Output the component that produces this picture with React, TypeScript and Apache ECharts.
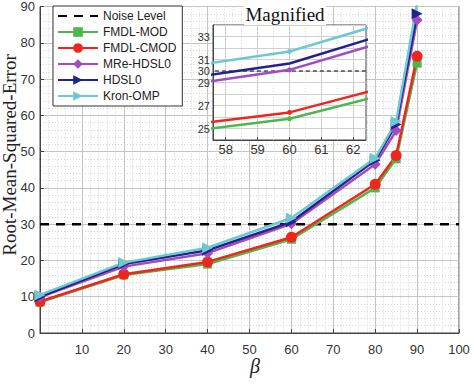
import React, { useEffect, useRef } from "react";
import * as echarts from "echarts";

const betaValues = [0, 20, 40, 60, 80, 85, 90];
const fmdlMod = [8.5, 16, 19, 25.85, 40, 48, 74.4];
const fmdlCmod = [8.7, 16.2, 19.6, 26.4, 41, 48.9, 76.3];
const mreHdsl0 = [9.9, 18.3, 22, 30.1, 46.5, 55.8, 86.3];
const hdsl0 = [10, 19, 22.8, 30.65, 47.6, 57.5, 88];
const kronOmp = [10.5, 19.4, 23.5, 31.7, 48.2, 58.3, 91];
const noiseLevel = 30;

const xTicksMain = [10, 20, 30, 40, 50, 60, 70, 80, 90, 100];
const insetXTicks = [58, 59, 60, 61, 62];
const insetXHalf = [58, 58.5, 59, 59.5, 60, 60.5, 61, 61.5, 62];
const insetYTicks = [25, 27, 29, 30, 31, 33];

const seriesDefs = [
  { name: "FMDL-MOD", data: fmdlMod, color: "#4cb84c", symbol: "rect", rot: 0, size: 9 },
  { name: "FMDL-CMOD", data: fmdlCmod, color: "#f0261e", symbol: "circle", rot: 0, size: 11 },
  { name: "MRe-HDSL0", data: mreHdsl0, color: "#a24bc0", symbol: "diamond", rot: 0, size: 11 },
  { name: "HDSL0", data: hdsl0, color: "#22228c", symbol: "triangle", rot: -90, size: 11 },
  { name: "Kron-OMP", data: kronOmp, color: "#6cc9d0", symbol: "triangle", rot: -90, size: 11 },
];

const pairs = (ys: number[]) => betaValues.map((x, i) => [x, ys[i]]);

export default function App() {
  const ref = useRef<HTMLDivElement>(null);
  useEffect(() => {
    if (!ref.current) return;
    const chart = echarts.init(ref.current, null, { renderer: "svg" });
    const sans = "Liberation Sans";
    const serif = "Liberation Serif";
    const mainSeries: any[] = [
      {
        name: "Noise Level",
        type: "line",
        xAxisIndex: 0,
        yAxisIndex: 0,
        data: [[0, noiseLevel], [100, noiseLevel]],
        showSymbol: false,
        symbol: "none",
        lineStyle: { color: "#000", width: 2.5, type: [9, 7] },
        itemStyle: { color: "#000" },
        z: 2,
      },
      ...seriesDefs.map((s) => ({
        name: s.name,
        type: "line",
        xAxisIndex: 0,
        yAxisIndex: 0,
        data: pairs(s.data),
        symbol: s.symbol,
        symbolSize: s.size,
        symbolRotate: s.rot,
        showAllSymbol: true,
        lineStyle: { color: s.color, width: 2.5 },
        itemStyle: { color: s.color },
        clip: true,
        z: 3,
      })),
    ];
    const insetSeries: any[] = [
      {
        name: "noise-inset",
        type: "line",
        xAxisIndex: 1,
        yAxisIndex: 1,
        data: [[57, noiseLevel], [63, noiseLevel]],
        symbol: "none",
        lineStyle: { color: "#000", width: 1.2, type: [4, 3] },
        clip: true,
        z: 8,
      },
      ...seriesDefs.map((s) => ({
        name: s.name + "-inset",
        type: "line",
        xAxisIndex: 1,
        yAxisIndex: 1,
        data: pairs(s.data),
        symbol: s.name === "HDSL0" ? "none" : "circle",
        symbolSize: 5,
        lineStyle: { color: s.color, width: 2.5 },
        itemStyle: { color: s.color },
        clip: true,
        z: 9,
      })),
    ];
    chart.setOption({
      animation: false,
      grid: [
        {
          left: 40,
          right: 15,
          top: 5,
          bottom: 51,
          show: true,
          borderColor: "#444",
          borderWidth: 1,
          backgroundColor: "#fff",
          z: 0,
        },
        {
          left: 213,
          top: 25,
          width: 153,
          height: 115,
          show: true,
          borderColor: "#444",
          borderWidth: 1,
          backgroundColor: "#fff",
          z: 5,
        },
      ],
      xAxis: [
        {
          type: "value",
          gridIndex: 0,
          min: 0,
          max: 100,
          interval: 10,
          axisLine: { show: true, onZero: false, lineStyle: { color: "#444" } },
          axisTick: { show: true, inside: true, length: 4, lineStyle: { color: "#444" } },
          axisLabel: {
            showMinLabel: false,
            color: "#333",
            fontFamily: sans,
            fontSize: 13,
            margin: 10,
            formatter: (v: number) => (xTicksMain.includes(v) ? String(v) : ""),
          },
          splitLine: { show: true, lineStyle: { color: "#c4c4c4", width: 1 } },
          minorTick: { show: false, splitNumber: 5 },
          minorSplitLine: { show: true, lineStyle: { color: "#d4d4d4", type: [1, 2], width: 1 } },
          z: 1,
        },
        {
          type: "value",
          gridIndex: 1,
          min: 57.6,
          max: 62.4,
          axisLine: { show: true, onZero: false, lineStyle: { color: "#444" } },
          axisTick: { show: true, inside: true, length: 3, customValues: insetXTicks, lineStyle: { color: "#444" } },
          axisLabel: { color: "#333", fontFamily: sans, fontSize: 13, margin: 3, customValues: insetXTicks },
          splitLine: { show: true, lineStyle: { color: "#c8c8c8", width: 1 } },
          z: 6,
        },
        {
          type: "value",
          gridIndex: 1,
          min: 57.6,
          max: 62.4,
          axisLine: { show: false },
          axisTick: { show: false, customValues: insetXHalf },
          axisLabel: { show: false, customValues: insetXHalf },
          splitLine: { show: true, lineStyle: { color: "#d8d8d8", width: 1, type: [1, 2] } },
          z: 6,
        },
      ],
      yAxis: [
        {
          type: "value",
          gridIndex: 0,
          min: 0,
          max: 90,
          interval: 10,
          axisLine: { show: true, onZero: false, lineStyle: { color: "#444" } },
          axisTick: { show: true, inside: true, length: 4, lineStyle: { color: "#444" } },
          axisLabel: { color: "#333", fontFamily: sans, fontSize: 13, margin: 5 },
          splitLine: { show: true, lineStyle: { color: "#c4c4c4", width: 1 } },
          minorTick: { show: false, splitNumber: 5 },
          minorSplitLine: { show: true, lineStyle: { color: "#d4d4d4", type: [1, 2], width: 1 } },
          z: 1,
        },
        {
          type: "value",
          gridIndex: 1,
          min: 24,
          max: 34,
          interval: 1,
          axisLine: { show: true, onZero: false, lineStyle: { color: "#444" } },
          axisTick: { show: false },
          axisLabel: {
            color: "#333",
            fontFamily: sans,
            fontSize: 11,
            lineHeight: 9,
            margin: 3,
            formatter: (v: number) => (insetYTicks.includes(v) ? String(v) : ""),
          },
          splitLine: { show: true, lineStyle: { color: "#d0d0d0", width: 1 } },
          z: 6,
        },
      ],
      legend: {
        left: 53,
        top: 6,
        orient: "vertical",
        data: [
          { name: "Noise Level", itemStyle: { opacity: 0 } },
          ...seriesDefs.map((s) => s.name),
        ],
        backgroundColor: "#fff",
        borderColor: "#333",
        borderWidth: 1,
        padding: [4, 6, 4, 4],
        itemWidth: 40,
        itemHeight: 12,
        itemGap: 4,
        selectedMode: false,
        textStyle: { fontFamily: sans, fontSize: 12, color: "#222" },
        z: 20,
      },
      graphic: [
        {
          type: "rect",
          shape: { x: 244, y: 2, width: 82, height: 23 },
          style: { fill: "#fff" },
          z: 20,
        },
        {
          type: "text",
          x: 285,
          y: 14,
          style: {
            text: "Magnified",
            fontFamily: serif,
            fontSize: 19,
            fill: "#111",
            textAlign: "center",
            textVerticalAlign: "middle",
          },
          z: 21,
        },
        {
          type: "text",
          x: 9,
          y: 155,
          rotation: Math.PI / 2,
          style: {
            text: "Root-Mean-Squared-Error",
            fontFamily: serif,
            fontSize: 19,
            fill: "#222",
            textAlign: "center",
            textVerticalAlign: "middle",
          },
          z: 21,
        },
        {
          type: "text",
          x: 255,
          y: 366,
          style: {
            text: "β",
            fontFamily: serif,
            fontStyle: "italic",
            fontSize: 20,
            fill: "#222",
            textAlign: "center",
            textVerticalAlign: "middle",
          },
          z: 21,
        },
      ],
      series: [...mainSeries, ...insetSeries],
    });
    return () => chart.dispose();
  }, []);
  return <div ref={ref} style={{ width: 474, height: 384, position: "absolute", left: 0, top: 0 }} />;
}
